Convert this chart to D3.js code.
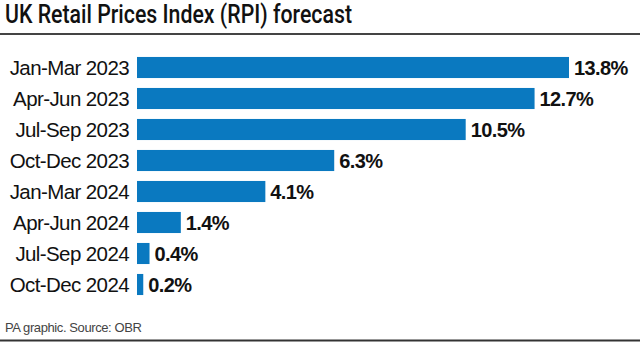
<!DOCTYPE html>
<html>
<head>
<meta charset="utf-8">
<script src="https://cdn.jsdelivr.net/npm/d3@7"></script>
<style>
  body { margin: 0; background: #fff; }
  svg { display: block; font-family: "Liberation Sans", Arial, sans-serif; }
</style>
</head>
<body>
<svg id="chart" width="640" height="342"></svg>
<script>
var quarters = ["Jan-Mar 2023", "Apr-Jun 2023", "Jul-Sep 2023", "Oct-Dec 2023",
  "Jan-Mar 2024", "Apr-Jun 2024", "Jul-Sep 2024", "Oct-Dec 2024"];
var rpi = [13.8, 12.7, 10.5, 6.3, 4.1, 1.4, 0.4, 0.2];

var svg = d3.select("#chart");
var width = 640, height = 342;
var margin = { top: 52, right: 71, bottom: 42, left: 137 };

svg.append("text")
  .attr("x", 5)
  .attr("y", 23)
  .attr("font-family", "Roboto, sans-serif")
  .attr("font-size", 26)
  .attr("font-weight", 500)
  .attr("textLength", 347)
  .attr("lengthAdjust", "spacingAndGlyphs")
  .attr("fill", "#111")
  .text("UK Retail Prices Index (RPI) forecast");

svg.append("line")
  .attr("x1", 0).attr("x2", width)
  .attr("y1", 34).attr("y2", 34)
  .attr("stroke", "#444").attr("stroke-width", 2);

var x = d3.scaleLinear()
  .domain([0, 13.8])
  .range([margin.left, width - margin.right]);

var y = d3.scaleBand()
  .domain(quarters)
  .range([margin.top, height - margin.bottom])
  .paddingInner(0.32)
  .paddingOuter(0.16);

var rows = svg.append("g").selectAll("g")
  .data(quarters)
  .enter().append("g");

rows.append("rect")
  .attr("x", x(0))
  .attr("y", function (d) { return y(d); })
  .attr("width", function (d, i) { return x(rpi[i]) - x(0); })
  .attr("height", y.bandwidth())
  .attr("fill", "#0a79c0");

rows.append("text")
  .attr("x", margin.left - 8)
  .attr("y", function (d) { return y(d) + y.bandwidth() / 2; })
  .attr("dy", "0.36em")
  .attr("text-anchor", "end")
  .attr("font-size", 20.5)
  .attr("letter-spacing", -0.6)
  .attr("fill", "#111")
  .text(function (d) { return d; });

rows.append("text")
  .attr("x", function (d, i) { return x(rpi[i]) + 5; })
  .attr("y", function (d) { return y(d) + y.bandwidth() / 2; })
  .attr("dy", "0.36em")
  .attr("font-size", 20)
  .attr("font-weight", 700)
  .attr("letter-spacing", -0.6)
  .attr("fill", "#111")
  .text(function (d, i) { return rpi[i] + "%"; });

svg.append("text")
  .attr("x", 5)
  .attr("y", 332)
  .attr("font-size", 13)
  .attr("letter-spacing", -0.4)
  .attr("fill", "#444")
  .text("PA graphic. Source: OBR");

svg.append("line")
  .attr("x1", 0).attr("x2", width)
  .attr("y1", 340.5).attr("y2", 340.5)
  .attr("stroke", "#333").attr("stroke-width", 2);
</script>
</body>
</html>
